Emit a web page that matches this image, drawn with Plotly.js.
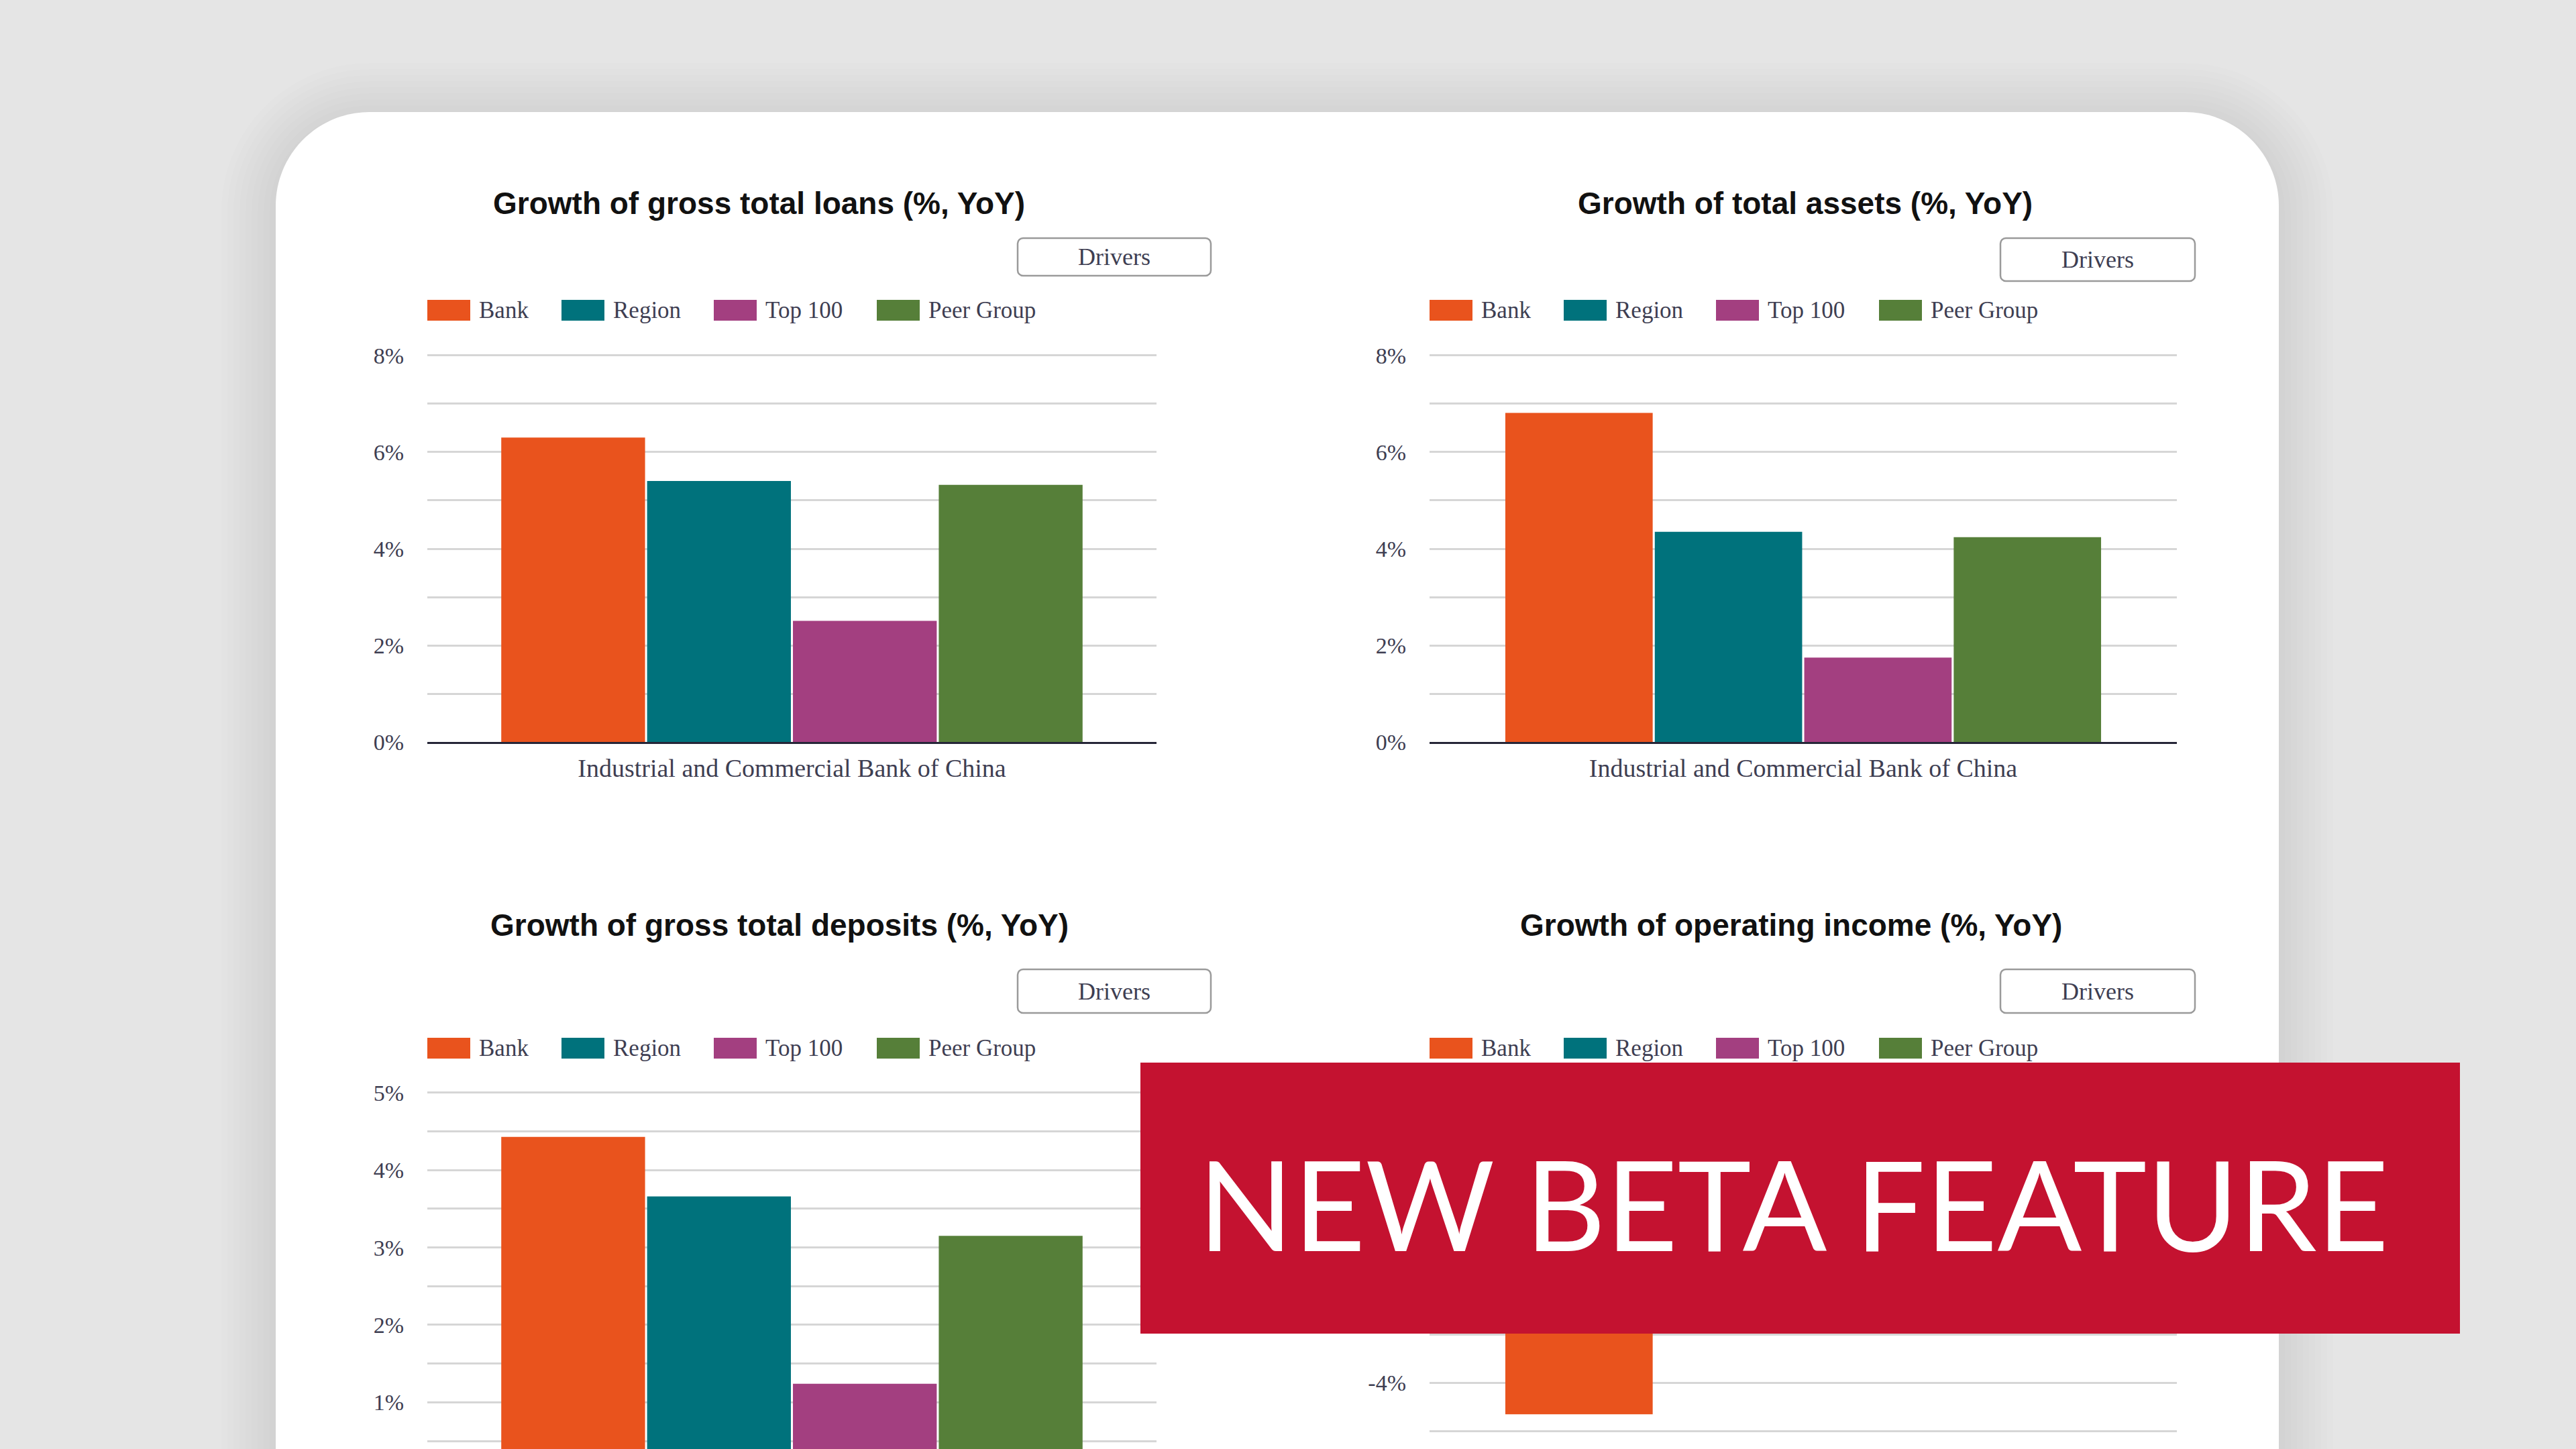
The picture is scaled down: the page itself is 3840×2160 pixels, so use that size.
<!DOCTYPE html>
<html>
<head>
<meta charset="utf-8">
<script src="https://cdn.plot.ly/plotly-3.0.1.min.js"></script>
<style>
  html, body { margin: 0; padding: 0; background: #e5e5e5; }
  #chart { width: 3840px; height: 2160px; }
</style>
</head>
<body>
<div id="chart"></div>
<script>
// ---------------- DATA ----------------
const category = ['Industrial and Commercial Bank of China'];
const seriesNames = ['Bank', 'Region', 'Top 100', 'Peer Group'];
const chartTitles = [
  'Growth of gross total loans (%, YoY)',
  'Growth of total assets (%, YoY)',
  'Growth of gross total deposits (%, YoY)',
  'Growth of operating income (%, YoY)'
];
const loansGrowth = [6.30, 5.40, 2.51, 5.32];
const assetsGrowth = [6.81, 4.35, 1.75, 4.24];
const depositsGrowth = [4.43, 3.66, 1.24, 3.15];
const operatingIncomeGrowth = [-4.65, -1.5, 0.8, -1.1];

const tickVals1 = [0, 1, 2, 3, 4, 5, 6, 7, 8];
const tickText1 = ['0%', '', '2%', '', '4%', '', '6%', '', '8%'];
const tickVals3 = [0.5, 1, 1.5, 2, 2.5, 3, 3.5, 4, 4.5, 5];
const tickText3 = ['', '1%', '', '2%', '', '3%', '', '4%', '', '5%'];
const tickVals4 = [-5, -4, -3, -2, -1, 0, 1, 2];
// labels -2%, 0%, 2% lie under the banner in the reference
const tickText4 = ['', '-4%', '', '', '', '', '', ''];
const buttonLabel = 'Drivers';
const bannerText = 'NEW BETA FEATURE';

// ---------------- STYLE / LAYOUT ----------------
const W = 3840, H = 2160;
const colors = ['#E9531D', '#00727C', '#A33F80', '#567F39'];
const textColor = '#3e3e52';
const gridColor = '#d6d6d6';
const serif = 'Liberation Serif, Times New Roman, serif';
const sans = 'Liberation Sans, Arial, sans-serif';
const fx = x => x / W;
const fy = y => 1 - y / H;

const panels = [
  { values: loansGrowth, title: chartTitles[0], x0: 637, x1: 1724, yTop: 522.4, yBot: 1106.4, range: [0, 8.1],
    tv: tickVals1, tt: tickText1, titleX: 1131, titleY: 303, legY: 462.5, btn: [1517, 355, 1805, 411], axisLine: true, cat: true },
  { values: assetsGrowth, title: chartTitles[1], x0: 2131, x1: 3245, yTop: 522.4, yBot: 1106.4, range: [0, 8.1],
    tv: tickVals1, tt: tickText1, titleX: 2691, titleY: 303, legY: 462.5, btn: [2982, 355, 3272, 419], axisLine: true, cat: true },
  { values: depositsGrowth, title: chartTitles[2], x0: 637, x1: 1724, yTop: 1623.2, yBot: 2160, range: [0.396, 5.05],
    tv: tickVals3, tt: tickText3, titleX: 1162, titleY: 1379, legY: 1562.5, btn: [1517, 1445, 1805, 1510], axisLine: false, cat: false },
  { values: operatingIncomeGrowth, title: chartTitles[3], x0: 2131, x1: 3245, yTop: 1624.6, yBot: 2160, range: [-5.366, 2.05],
    tv: tickVals4, tt: tickText4, titleX: 2670, titleY: 1379, legY: 1562.5, btn: [2982, 1445, 3272, 1510], axisLine: false, zero: true, cat: false }
];
const legendOffsets = [0, 200, 427, 670];

const traces = [];
const layout = {
  width: W, height: H, autosize: false,
  margin: { l: 0, r: 0, t: 0, b: 0, pad: 0 },
  paper_bgcolor: '#e5e5e5',
  plot_bgcolor: 'rgba(0,0,0,0)',
  barmode: 'group', bargap: 0.2, bargroupgap: 0.014,
  showlegend: false,
  shapes: [], annotations: []
};

function roundTopPath(x0, y0, x1, y1, r) {
  const k = 0.5523 * r;
  return `M ${fx(x0)},${fy(y1)} L ${fx(x0)},${fy(y0 + r)} ` +
    `C ${fx(x0)},${fy(y0 + r - k)} ${fx(x0 + r - k)},${fy(y0)} ${fx(x0 + r)},${fy(y0)} ` +
    `L ${fx(x1 - r)},${fy(y0)} ` +
    `C ${fx(x1 - r + k)},${fy(y0)} ${fx(x1)},${fy(y0 + r - k)} ${fx(x1)},${fy(y0 + r)} ` +
    `L ${fx(x1)},${fy(y1)} Z`;
}
function roundRectPath(x0, y0, x1, y1, r) {
  const k = 0.5523 * r;
  return `M ${fx(x0 + r)},${fy(y0)} L ${fx(x1 - r)},${fy(y0)} ` +
    `C ${fx(x1 - r + k)},${fy(y0)} ${fx(x1)},${fy(y0 + r - k)} ${fx(x1)},${fy(y0 + r)} ` +
    `L ${fx(x1)},${fy(y1 - r)} ` +
    `C ${fx(x1)},${fy(y1 - r + k)} ${fx(x1 - r + k)},${fy(y1)} ${fx(x1 - r)},${fy(y1)} ` +
    `L ${fx(x0 + r)},${fy(y1)} ` +
    `C ${fx(x0 + r - k)},${fy(y1)} ${fx(x0)},${fy(y1 - r + k)} ${fx(x0)},${fy(y1 - r)} ` +
    `L ${fx(x0)},${fy(y0 + r)} ` +
    `C ${fx(x0)},${fy(y0 + r - k)} ${fx(x0 + r - k)},${fy(y0)} ${fx(x0 + r)},${fy(y0)} Z`;
}

// card shadow + card
for (let k = 9; k >= 1; k--) {
  const e = k * 9;
  layout.shapes.push({ type: 'path', xref: 'paper', yref: 'paper', layer: 'below',
    path: roundTopPath(411 - e, 167 - e + 8, 3397 + e, 2300, 140 + e),
    fillcolor: 'rgba(0,0,0,0.009)', line: { width: 0 } });
}
layout.shapes.push({ type: 'path', xref: 'paper', yref: 'paper', layer: 'below',
  path: roundTopPath(411, 167, 3397, 2300, 140), fillcolor: '#ffffff', line: { width: 0 } });

panels.forEach((p, i) => {
  const sfx = i === 0 ? '' : String(i + 1);
  p.values.forEach((v, j) => {
    traces.push({
      type: 'bar', x: category, y: [p.values[j]], name: seriesNames[j],
      marker: { color: colors[j], line: { width: 0 } },
      xaxis: 'x' + sfx, yaxis: 'y' + sfx, hoverinfo: 'skip', showlegend: false
    });
  });
  layout['xaxis' + sfx] = {
    domain: [fx(p.x0), fx(p.x1)], anchor: 'y' + sfx, type: 'category',
    showgrid: false, zeroline: false, ticks: '', fixedrange: true,
    showline: p.axisLine, linecolor: '#262638', linewidth: 3,
    showticklabels: p.cat,
    tickfont: { family: serif, size: 38, color: textColor },
    ticklabelstandoff: 3
  };
  layout['yaxis' + sfx] = {
    domain: [fy(p.yBot), fy(p.yTop)], anchor: 'x' + sfx, range: p.range,
    tickmode: 'array', tickvals: p.tv, ticktext: p.tt,
    showgrid: true, gridcolor: gridColor, gridwidth: 3,
    zeroline: !!p.zero, zerolinecolor: '#262638', zerolinewidth: 3,
    ticks: '', showline: false, fixedrange: true,
    tickfont: { family: serif, size: 34, color: textColor },
    ticklabelstandoff: 34
  };
  // title
  layout.annotations.push({ xref: 'paper', yref: 'paper', x: fx(p.titleX), y: fy(p.titleY),
    xanchor: 'center', yanchor: 'middle', showarrow: false,
    text: '<b>' + p.title + '</b>', font: { family: sans, size: 46, color: '#111111' } });
  // custom legend
  seriesNames.forEach((n, j) => {
    const lx = p.x0 + legendOffsets[j];
    layout.shapes.push({ type: 'rect', xref: 'paper', yref: 'paper', layer: 'above',
      x0: fx(lx), x1: fx(lx + 64), y0: fy(p.legY + 15.5), y1: fy(p.legY - 15.5),
      fillcolor: colors[j], line: { width: 0 } });
    layout.annotations.push({ xref: 'paper', yref: 'paper', x: fx(lx + 75), y: fy(p.legY),
      xanchor: 'left', yanchor: 'middle', showarrow: false, text: n,
      font: { family: serif, size: 35, color: textColor } });
  });
  // drivers button
  const b = p.btn;
  layout.shapes.push({ type: 'path', xref: 'paper', yref: 'paper', layer: 'below',
    path: roundRectPath(b[0], b[1], b[2], b[3], 8), fillcolor: '#ffffff',
    line: { color: '#9a9a9a', width: 2.5 } });
  layout.annotations.push({ xref: 'paper', yref: 'paper', x: fx((b[0] + b[2]) / 2), y: fy((b[1] + b[3]) / 2),
    xanchor: 'center', yanchor: 'middle', showarrow: false, text: buttonLabel,
    font: { family: serif, size: 36, color: textColor } });
});

// banner
layout.shapes.push({ type: 'rect', xref: 'paper', yref: 'paper', layer: 'above',
  x0: fx(1700), x1: fx(3667), y0: fy(1988), y1: fy(1584), fillcolor: '#C41230', line: { width: 0 } });
layout.annotations.push({ xref: 'paper', yref: 'paper', x: fx(2673), y: fy(1793),
  xanchor: 'center', yanchor: 'middle', showarrow: false, text: bannerText,
  font: { family: 'Lato, Open Sans, sans-serif', size: 186, weight: 400, color: '#ffffff' } });

Plotly.newPlot('chart', traces, layout, { staticPlot: true, displayModeBar: false });
</script>
</body>
</html>
